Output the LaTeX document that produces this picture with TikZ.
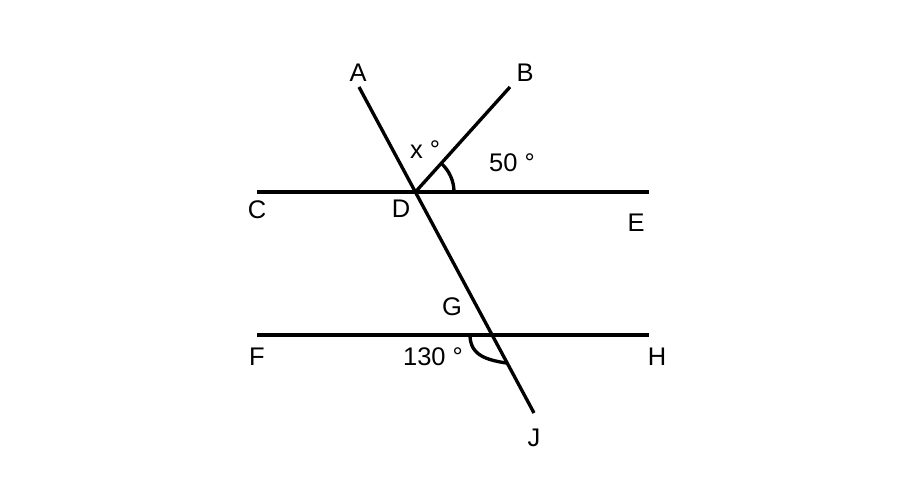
\documentclass[tikz,border=0pt]{standalone}
\usepackage{fontspec}
\setmainfont{Liberation Sans}

\begin{document}
\begin{tikzpicture}[x=0.02cm,y=-0.02cm,line width=1.9pt,
  lbl/.style={font=\fontsize{14.5}{17}\selectfont,inner sep=0pt}]
\useasboundingbox (0,0) rectangle (917,502);

% points of the figure
\coordinate (A) at (359,87);
\coordinate (J) at (534,413);
\coordinate (B) at (510,87);
\coordinate (C) at (257,192);
\coordinate (E) at (649,192);
\coordinate (F) at (257,335);
\coordinate (H) at (649,335);
\coordinate (D) at (415.4,192);
\coordinate (G) at (492,335);

% parallel lines and transversal
\draw (C) -- (E);
\draw (F) -- (H);
\draw (A) -- (J);
\draw (D) -- (B);

% angle marks
\draw (454,192) arc[start angle=0,end angle=-48,radius=38.5];
\draw (470,335) .. controls (470,356) and (488,360) .. (506,363);

% labels
\node[lbl] (lA) at (358,73) {A};
\node[lbl] (lB) at (525,73) {B};
\node[lbl] (lC) at (257,210) {C};
\node[lbl] (lD) at (401,209) {D};
\node[lbl] (lE) at (636,223) {E};
\node[lbl] (lF) at (257,357) {F};
\node[lbl] (lG) at (452,307) {G};
\node[lbl] (lH) at (657,357) {H};
\node[lbl] (lJ) at (534,438) {J};
\node[lbl] (lx) at (425,150) {x °};
\node[lbl] (l50) at (512,163) {50 °};
\node[lbl] (l130) at (433,357) {130 °};
\end{tikzpicture}
\end{document}
